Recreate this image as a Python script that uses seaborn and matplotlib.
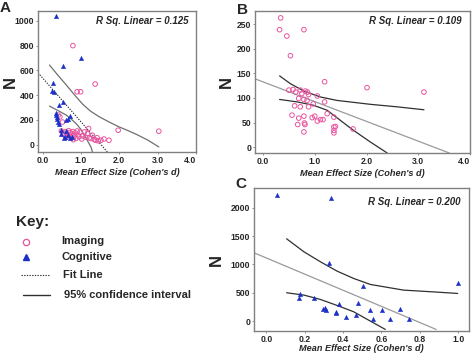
import numpy as np
import pandas as pd
import matplotlib
matplotlib.use("Agg")
import matplotlib.pyplot as plt
import seaborn as sns

sns.set_style("white")
plt.rcParams['font.family'] = ['Liberation Sans', 'DejaVu Sans']

# ---- panel A : imaging + cognitive ----
a_img_x = [0.41, 0.45, 0.52, 0.79, 0.90, 0.99, 1.37, 1.97, 3.03,
           0.49, 0.53, 0.57, 0.60, 0.62, 0.65, 0.68, 0.70, 0.72, 0.75, 0.77, 0.79,
           0.80, 0.82, 0.85, 0.87, 0.90, 0.92, 0.95, 0.98, 1.02, 1.05, 1.09, 1.12,
           1.17, 1.20, 1.22, 1.26, 1.30, 1.35, 1.39, 1.42, 1.45, 1.52, 1.60, 1.73]
a_img_n = [238, 224, 182, 800, 427, 427, 489, 116, 108,
           110, 95, 75, 105, 62, 88, 112, 70, 98, 55, 85, 105,
           40, 72, 95, 50, 110, 80, 62, 100, 45, 70, 102, 60,
           89, 130, 55, 49, 75, 40, 35, 55, 30, 35, 45, 35]
a_cog_x = [0.34, 0.54, 0.99, 0.26, 0.24, 0.31, 0.43, 0.52, 0.35, 0.35, 0.37, 0.38,
           0.41, 0.43, 0.65, 0.72, 0.60, 0.49, 0.47, 0.58, 0.71, 0.77, 0.66, 0.62, 0.55]
a_cog_n = [1041, 635, 697, 495, 435, 427, 324, 341, 257, 238, 224, 203,
           184, 165, 203, 232, 197, 116, 89, 62, 57, 62, 76, 110, 55]
a_fit_x = [-0.12, 1.69]
a_fit_y = [581, -60]
a_up_x = [0.18, 0.40, 0.62, 0.85, 1.05, 1.25, 1.47, 1.75, 1.98, 2.25, 2.49, 2.75, 3.03]
a_up_y = [643, 560, 481, 395, 325, 270, 226, 180, 145, 110, 76, 35, -19]
a_lo_x = [0.18, 0.40, 0.62, 0.75, 0.88, 1.00, 1.09, 1.18, 1.26, 1.30]
a_lo_y = [311, 275, 238, 205, 168, 122, 76, 25, -19, -60]

# ---- panel B : imaging ----
b_img_x = [0.34, 0.32, 0.46, 0.79, 0.53, 1.19, 2.01, 3.11,
           0.50, 0.58, 0.63, 0.72, 0.82, 0.86, 0.75, 0.88, 0.69, 0.79, 0.85, 1.05,
           1.19, 0.61, 0.72, 0.88, 0.97, 0.56, 0.69, 0.79, 0.67, 0.81, 0.80, 0.95,
           1.00, 1.05, 1.11, 1.16, 1.24, 1.37, 1.37, 1.40, 1.37, 1.37, 1.74, 0.79]
b_img_n = [263, 239, 226, 239, 186, 133, 121, 112,
           116, 117, 112, 116, 114, 112, 109, 107, 99, 97, 95, 104,
           92, 84, 82, 82, 88, 65, 59, 63, 46, 46, 49, 60,
           63, 53, 56, 56, 68, 61, 41, 42, 34, 29, 37, 31]
b_fit_x = [-0.155, 3.6]
b_fit_y = [139, -12]
b_up_x = [0.32, 0.53, 0.79, 1.11, 1.43, 2.08, 2.59, 3.11]
b_up_y = [145, 129, 114, 102, 95, 87, 82, 76]
b_lo_x = [0.32, 0.66, 0.98, 1.24, 1.50, 1.75, 2.08, 2.40]
b_lo_y = [97, 92, 85, 75, 54, 34, 10, -12]

# ---- panel C : cognitive ----
c_cog_x = [0.057, 0.338, 0.326, 0.504, 0.997, 0.175, 0.170, 0.251, 0.381, 0.476,
           0.296, 0.308, 0.313, 0.364, 0.365, 0.417, 0.469, 0.539, 0.603, 0.556,
           0.646, 0.694, 0.741]
c_cog_n = [2235, 2176, 1029, 618, 676, 482, 412, 412, 306, 324,
           206, 224, 188, 165, 147, 76, 100, 188, 188, 41,
           41, 218, 41]
c_fit_x = [-0.064, 0.885]
c_fit_y = [1206, -147]
c_up_x = [0.106, 0.196, 0.282, 0.369, 0.455, 0.542, 0.715, 0.888, 0.997]
c_up_y = [1453, 1224, 1047, 882, 753, 647, 547, 512, 488]
c_lo_x = [0.106, 0.196, 0.282, 0.369, 0.455, 0.542, 0.620]
c_lo_y = [500, 459, 382, 276, 165, 0, -147]

pink = '#e8559f'
blue = '#1a2fc8'
W, H = 474, 355


def box(l, t, r, b):
    return [l / W, 1 - b / H, (r - l) / W, (b - t) / H]


fig = plt.figure(figsize=(4.74, 3.55), dpi=100)
axA = fig.add_axes(box(38, 11, 196, 152))
axB = fig.add_axes(box(255, 11, 470, 153))
axC = fig.add_axes(box(254, 188, 469, 331))


def img(ax, x, y):
    sns.scatterplot(x=x, y=y, ax=ax, marker='o', s=11, facecolor='none',
                    edgecolor=pink, linewidth=0.7, zorder=3)


def cog(ax, x, y):
    sns.scatterplot(x=x, y=y, ax=ax, marker='^', s=10, color=blue,
                    edgecolor=blue, linewidth=0.3, zorder=3)


def line(ax, x, y, **kw):
    sns.lineplot(x=x, y=y, ax=ax, sort=False, estimator=None, **kw)


# A
line(axA, a_up_x, a_up_y, color='#707070', lw=0.9)
line(axA, a_lo_x, a_lo_y, color='#707070', lw=0.9)
line(axA, a_fit_x, a_fit_y, color='#303030', lw=0.8, linestyle=(0, (1.2, 1.2)))
img(axA, a_img_x, a_img_n)
cog(axA, a_cog_x, a_cog_n)
axA.set_xlim(-0.12, 4.0)
axA.set_ylim(-60, 1080)
axA.set_xticks([0, 1, 2, 3, 4])
axA.set_yticks([0, 200, 400, 600, 800, 1000])
axA.text(0.955, 0.93, 'R Sq. Linear = 0.125', transform=axA.transAxes,
         ha='right', va='center', fontsize=7, fontweight='bold', style='italic')

# B
line(axB, b_fit_x, b_fit_y, color='#9a9a9a', lw=0.9)
line(axB, b_up_x, b_up_y, color='#303030', lw=0.9)
line(axB, b_lo_x, b_lo_y, color='#303030', lw=0.9)
img(axB, b_img_x, b_img_n)
axB.set_xlim(-0.155, 4.0)
axB.set_ylim(-12, 277)
axB.set_xticks([0, 1, 2, 3, 4])
axB.set_yticks([0, 50, 100, 150, 200, 250])
axB.text(0.96, 0.93, 'R Sq. Linear = 0.109', transform=axB.transAxes,
         ha='right', va='center', fontsize=7, fontweight='bold', style='italic')

# C
line(axC, c_fit_x, c_fit_y, color='#9a9a9a', lw=0.9)
line(axC, c_up_x, c_up_y, color='#303030', lw=0.9)
line(axC, c_lo_x, c_lo_y, color='#303030', lw=0.9)
cog(axC, c_cog_x, c_cog_n)
axC.set_xlim(-0.064, 1.056)
axC.set_ylim(-175, 2350)
axC.set_xticks([0, 0.2, 0.4, 0.6, 0.8, 1.0])
axC.set_yticks([0, 500, 1000, 1500, 2000])
axC.text(0.96, 0.9, 'R Sq. Linear = 0.200', transform=axC.transAxes,
         ha='right', va='center', fontsize=7, fontweight='bold', style='italic')

for ax, lx, lp in [(axA, -0.125, 2.5), (axB, -0.098, 2.5), (axC, -0.14, 0.5)]:
    ax.xaxis.set_major_formatter(matplotlib.ticker.FormatStrFormatter('%.1f'))
    ax.tick_params(axis='both', labelsize=6.2, length=1.5, width=0.6,
                   color='#808080', pad=1.2, bottom=True, left=True)
    for lab in ax.get_xticklabels() + ax.get_yticklabels():
        lab.set_fontweight('bold')
    for sp in ax.spines.values():
        sp.set_color('#808080')
        sp.set_linewidth(1.0)
    ax.set_xlabel("Mean Effect Size (Cohen's d)", fontsize=6.6,
                  fontweight='bold', style='italic', labelpad=lp)
    ax.set_ylabel('N', fontsize=12, fontweight='bold')
    ax.yaxis.set_label_coords(lx, 0.5)

# keep the 4.0 labels inside the frame, as in the reference
for ax in (axA, axB):
    ax.get_xticklabels()[-1].set_horizontalalignment('right')

# panel letters
fig.text(5 / W, 1 - 8 / H, 'A', fontsize=11, fontweight='bold', ha='center', va='center')
fig.text(243 / W, 1 - 10 / H, 'B', fontsize=11, fontweight='bold', ha='center', va='center')
fig.text(241 / W, 1 - 184 / H, 'C', fontsize=11, fontweight='bold', ha='center', va='center')

# key
key = fig.add_axes([0, 0, 1, 1], zorder=-1)
key.set_xlim(0, W)
key.set_ylim(H, 0)
key.axis('off')
key.text(16, 222, 'Key:', fontsize=11, fontweight='bold', va='center')
key.plot([25.7], [241.5], marker='o', ms=4.5, mfc='none', mec=pink, mew=0.9)
key.plot([25.7], [257], marker='^', ms=4, color=blue)
key.plot([21, 49], [274.5, 274.5], color='#303030', lw=0.8, linestyle=(0, (1.2, 1.2)))
key.plot([22.7, 50], [294.5, 294.5], color='#303030', lw=1.0)
key.text(61.5, 241.5, 'Imaging', fontsize=8, fontweight='bold', va='center')
key.text(62, 257, 'Cognitive', fontsize=8, fontweight='bold', va='center')
key.text(63.5, 274.5, 'Fit Line', fontsize=8, fontweight='bold', va='center')
key.text(64.5, 295, '95% confidence interval', fontsize=8, fontweight='bold', va='center')

fig.savefig('out.png', dpi=100)
